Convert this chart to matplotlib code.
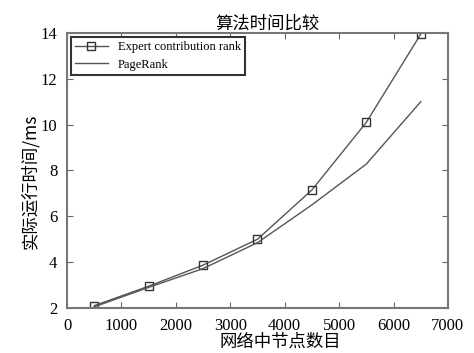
import matplotlib
matplotlib.use("Agg")
import matplotlib.pyplot as plt

x_nodes = [500, 1500, 2500, 3500, 4500, 5500, 6500]
expert_rank = [2.1, 2.95, 3.87, 5.0, 7.15, 10.1, 13.95]
pagerank = [2.05, 2.9, 3.72, 4.85, 6.5, 8.28, 11.0]
xticks = [0, 1000, 2000, 3000, 4000, 5000, 6000, 7000]
yticks = [2, 4, 6, 8, 10, 12, 14]

cjk = ['Noto Sans CJK SC', 'DejaVu Sans']
serif = ['Liberation Serif', 'DejaVu Serif']

fig = plt.figure(figsize=(4.74, 3.53), dpi=100)
ax = fig.add_axes([0.1414, 0.1275, 0.8036, 0.779])
col = '#555555'
ax.plot(x_nodes, expert_rank, color=col, lw=1.0, marker='s', markersize=6,
        markerfacecolor='none', markeredgecolor='#333333', markeredgewidth=1.0,
        label='Expert contribution rank')
ax.plot(x_nodes, pagerank, color=col, lw=1.0, label='PageRank')
ax.set_xlim(0, 7000)
ax.set_ylim(2, 14)
ax.set_xticks(xticks)
ax.set_yticks(yticks)
ax.set_xticklabels([str(v) for v in xticks], family=serif, fontsize=12)
ax.set_yticklabels([str(v) for v in yticks], family=serif, fontsize=12)
ax.tick_params(direction='in', top=True, right=True, length=4, color='#666666', pad=7)
for s in ax.spines.values():
    s.set_color('#777777')
    s.set_linewidth(1.5)
ax.set_title('算法时间比较', family=cjk, fontsize=12.5, pad=3, x=0.525)
ax.set_xlabel('网络中节点数目', family=cjk, fontsize=12.5, labelpad=-1, x=0.56)
ax.set_ylabel('实际运行时间/ms', family=cjk, fontsize=12.5, labelpad=1, y=0.46)
leg = ax.legend(loc='upper left', prop={'family': serif, 'size': 9}, fancybox=False,
                edgecolor='#333333', framealpha=1, borderaxespad=0.3,
                handlelength=2.6, labelspacing=0.45, borderpad=0.35)
leg.get_frame().set_linewidth(1.5)
fig.savefig('out.png', dpi=100)
